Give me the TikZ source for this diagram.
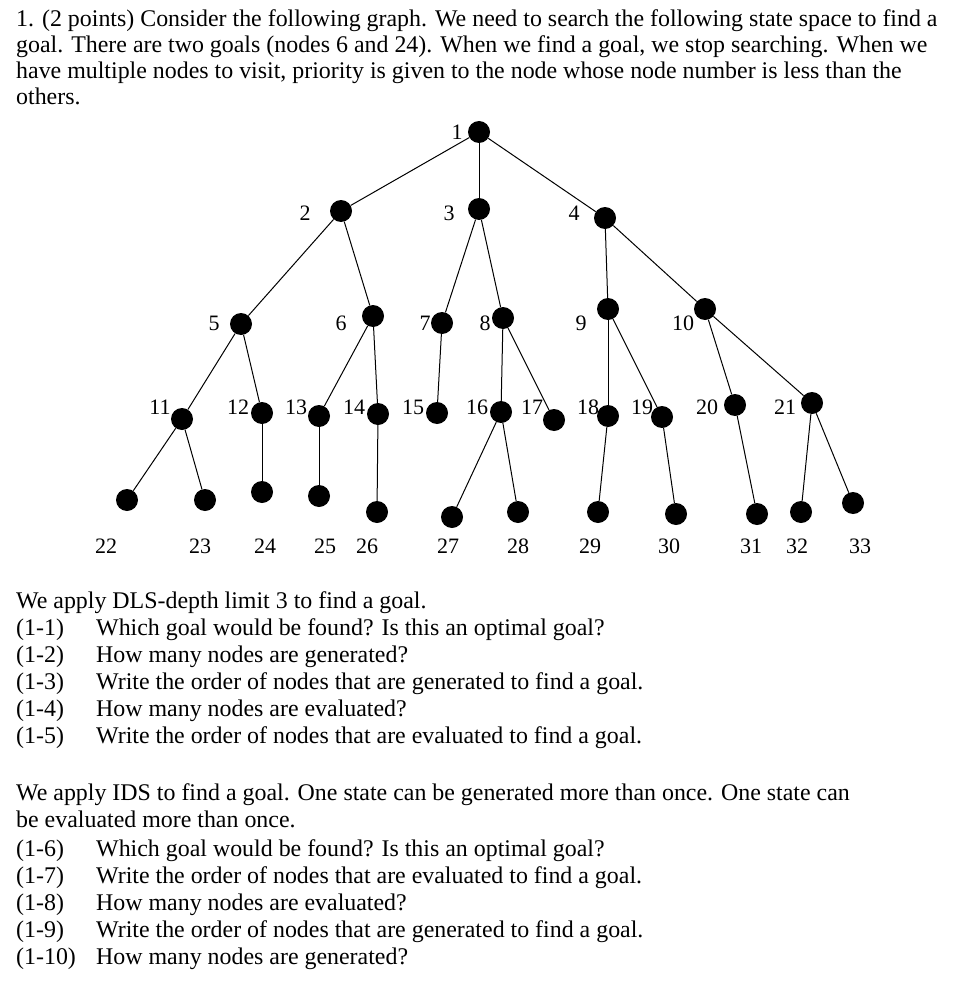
\documentclass[tikz,border=0pt]{standalone}
\usepackage{fontspec}
\setmainfont{Liberation Serif}
\begin{document}
\begin{tikzpicture}[x=1pt,y=-1pt,
  dot/.style={circle,fill=black,inner sep=0pt,minimum size=22pt},
  lbl/.style={font=\fontsize{22}{26}\selectfont,inner sep=0pt},
  txt/.style={font=\fontsize{23.9}{28}\selectfont,anchor=base west,inner sep=0pt},
  edge/.style={draw,line width=1pt}]
\useasboundingbox[fill=white] (0,0) rectangle (970,987);
\foreach \n/\x/\y in {1/479/132,2/341/211,3/479/209,4/605/218,5/241/324,6/373/316,7/442/323,8/503/318,9/608/309,10/705/309,
 11/182/419,12/262/413,13/319/416,14/378/414,15/437/413,16/501/412,17/554/420,18/608/416,19/662/417,20/735/405,21/812/403,
 22/127/500,23/205/500,24/262/492,25/319/496,26/377/512,27/452/517,28/518/512,29/598/512,30/676/514,31/757/514,32/801/512,33/853/503}
 {\node[dot] (n\n) at (\x,\y) {};}
\foreach \a/\b in {1/2,1/3,1/4,2/5,2/6,3/7,3/8,4/9,4/10,5/11,5/12,6/13,6/14,7/15,8/16,8/17,9/18,9/19,10/20,10/21,
 11/22,11/23,12/24,13/25,14/26,16/27,16/28,18/29,19/30,20/31,21/32,21/33}
 {\path[edge] (n\a) -- (n\b);}
\foreach \n/\x/\y in {1/457/132,2/305/213,3/449/213,4/574/213,5/214/323,6/341/323,7/425/323,8/485/323,9/581/323,10/683/323,
 11/160/407,12/238/407,13/296/407,14/354/407,15/413/407,16/477/407,17/532/407,18/588/407,19/642/407,20/707/407,21/785/407,
 22/106/546,23/200/546,24/265/546,25/325/546,26/367/546,27/448/546,28/518/546,29/590/546,30/669/546,31/751/546,32/797/546,33/860/546}
 {\node[lbl] (l\n) at (\x,\y) {\n};}
\node[txt] (t1) at (16,27) {1. (2 points) Consider the following graph. We need to search the following state space to find a};
\node[txt] (t2) at (16,53) {goal. There are two goals (nodes 6 and 24). When we find a goal, we stop searching. When we};
\node[txt] (t3) at (16,79) {have multiple nodes to visit, priority is given to the node whose node number is less than the};
\node[txt] (t4) at (16,105) {others.};
\node[txt] (q0) at (16,608) {We apply DLS-depth limit 3 to find a goal.};
\foreach \k/\y/\s in {1/635/{Which goal would be found? Is this an optimal goal?},2/662/{How many nodes are generated?},3/689/{Write the order of nodes that are generated to find a goal.},4/716/{How many nodes are evaluated?},5/743/{Write the order of nodes that are evaluated to find a goal.},
 6/856/{Which goal would be found? Is this an optimal goal?},7/883/{Write the order of nodes that are evaluated to find a goal.},8/910/{How many nodes are evaluated?},9/937/{Write the order of nodes that are generated to find a goal.},10/964/{How many nodes are generated?}}
 {\node[txt] (qa\k) at (16,\y) {(1-\k)}; \node[txt] (qb\k) at (96,\y) {\s};}
\node[txt] (r0) at (16,800) {We apply IDS to find a goal. One state can be generated more than once. One state can};
\node[txt] (r1) at (16,827) {be evaluated more than once.};
\end{tikzpicture}
\end{document}
